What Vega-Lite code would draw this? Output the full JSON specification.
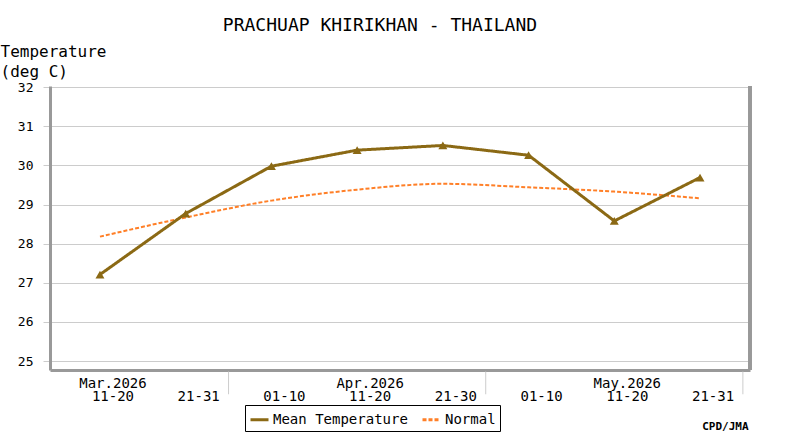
{
  "$schema": "https://vega.github.io/schema/vega-lite/v6.json",
  "width": 700,
  "height": 284,
  "autosize": "none",
  "padding": {"left": 50, "top": 86, "right": 50, "bottom": 70},
  "background": "white",
  "title": {
    "text": "PRACHUAP KHIRIKHAN - THAILAND",
    "font": "DejaVu Sans Mono",
    "fontSize": 18,
    "fontWeight": "normal",
    "color": "black",
    "anchor": "middle",
    "dx": -20,
    "offset": 8
  },
  "config": {
    "view": {"stroke": null},
    "axis": {"labelFont": "DejaVu Sans Mono", "titleFont": "DejaVu Sans Mono", "labelColor": "black", "titleColor": "black"}
  },
  "data": {
    "values": [
      {"period": "Mar 11-20", "series": "Mean Temperature", "temp": 27.21},
      {"period": "Mar 21-31", "series": "Mean Temperature", "temp": 28.77},
      {"period": "Apr 01-10", "series": "Mean Temperature", "temp": 29.98},
      {"period": "Apr 11-20", "series": "Mean Temperature", "temp": 30.39},
      {"period": "Apr 21-30", "series": "Mean Temperature", "temp": 30.51},
      {"period": "May 01-10", "series": "Mean Temperature", "temp": 30.26},
      {"period": "May 11-20", "series": "Mean Temperature", "temp": 28.58},
      {"period": "May 21-31", "series": "Mean Temperature", "temp": 29.69},
      {"period": "Mar 11-20", "series": "Normal", "temp": 28.18},
      {"period": "Mar 21-31", "series": "Normal", "temp": 28.67},
      {"period": "Apr 01-10", "series": "Normal", "temp": 29.10},
      {"period": "Apr 11-20", "series": "Normal", "temp": 29.38},
      {"period": "Apr 21-30", "series": "Normal", "temp": 29.53},
      {"period": "May 01-10", "series": "Normal", "temp": 29.44},
      {"period": "May 11-20", "series": "Normal", "temp": 29.33},
      {"period": "May 21-31", "series": "Normal", "temp": 29.16}
    ]
  },
  "encoding": {
    "x": {
      "field": "period",
      "type": "nominal",
      "sort": null,
      "scale": {
        "type": "band",
        "domain": ["Mar 11-20", "Mar 21-31", "Apr 01-10", "Apr 11-20", "Apr 21-30", "May 01-10", "May 11-20", "May 21-31"],
        "paddingInner": 0,
        "paddingOuter": 0.083
      },
      "axis": {
        "orient": "bottom",
        "title": "CPD/JMA",
        "titleFont": "DejaVu Sans Mono",
        "titleFontSize": 11,
        "titleFontWeight": "bold",
        "titleAlign": "right",
        "titleBaseline": "bottom",
        "titleX": 698,
        "titleY": 61,
        "domainColor": "#999999",
        "domainWidth": 3,
        "grid": false,
        "ticks": false,
        "labelAngle": 0,
        "labelFontSize": 14,
        "labelBaseline": "top",
        "labelLineHeight": 13,
        "labelPadding": 6,
        "labelOffset": 13,
        "labelExpr": "[indexof(datum.value,'11-20') >= 0 ? slice(datum.value,0,3) + '.2026' : '', slice(datum.value,4)]"
      }
    },
    "y": {
      "field": "temp",
      "type": "quantitative",
      "scale": {"domain": [24.77, 32.03], "nice": false, "zero": false},
      "axis": {
        "values": [25, 26, 27, 28, 29, 30, 31, 32],
        "title": ["Temperature", "(deg C)"],
        "titleAngle": 0,
        "titleAlign": "left",
        "titleBaseline": "top",
        "titleX": -50,
        "titleY": -43,
        "titleFontSize": 16,
        "titleFontWeight": "normal",
        "titleLineHeight": 20,
        "domainColor": "#999999",
        "domainWidth": 3,
        "gridColor": "#cccccc",
        "gridWidth": 1,
        "tickColor": "#cccccc",
        "tickSize": 7,
        "labelFontSize": 13,
        "labelPadding": 10
      }
    }
  },
  "layer": [
    {
      "transform": [{"filter": "datum.series === 'Normal' && indexof(['Mar 21-31','Apr 21-30','May 21-31'], datum.period) >= 0"}],
      "mark": {"type": "rule", "color": "#cccccc", "strokeWidth": 1, "clip": false},
      "encoding": {
        "x": {"field": "period", "type": "nominal", "sort": null, "bandPosition": 1},
        "y": {"datum": 24.73},
        "y2": {"datum": 24.15}
      }
    },
    {
      "mark": {"type": "rule", "color": "#999999", "strokeWidth": 3},
      "encoding": {
        "x": {"value": "width"},
        "y": {"datum": 32.03},
        "y2": {"datum": 24.77}
      }
    },
    {
      "transform": [{"filter": "datum.series === 'Normal'"}],
      "mark": {"type": "line", "interpolate": "monotone", "strokeWidth": 2},
      "encoding": {
        "color": {
          "field": "series",
          "type": "nominal",
          "scale": {"domain": ["Mean Temperature", "Normal"], "range": ["#8B6914", "#FF7F27"]},
          "legend": {
            "title": null,
            "orient": "none",
            "legendX": 195,
            "legendY": 319,
            "direction": "horizontal",
            "strokeColor": "black",
            "padding": 4,
            "symbolType": "stroke",
            "symbolSize": 324,
            "symbolStrokeWidth": 3,
            "labelFont": "DejaVu Sans Mono",
            "labelFontSize": 14,
            "labelColor": "black",
            "columnPadding": 8,
            "labelOffset": 3
          }
        },
        "strokeDash": {
          "field": "series",
          "type": "nominal",
          "scale": {"domain": ["Mean Temperature", "Normal"], "range": [[1, 0], [4, 2]]}
        }
      }
    },
    {
      "transform": [{"filter": "datum.series === 'Mean Temperature'"}],
      "mark": {"type": "line", "interpolate": "linear", "strokeWidth": 3},
      "encoding": {
        "color": {"field": "series", "type": "nominal"},
        "strokeDash": {"field": "series", "type": "nominal"}
      }
    },
    {
      "transform": [{"filter": "datum.series === 'Mean Temperature'"}],
      "mark": {"type": "point", "shape": "triangle-up", "filled": true, "color": "#8B6914", "size": 80, "opacity": 1},
      "encoding": {}
    }
  ]
}
